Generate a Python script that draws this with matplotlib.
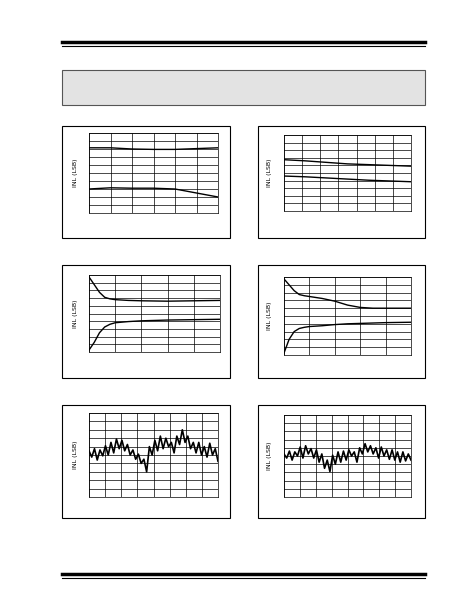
import matplotlib
matplotlib.use("Agg")
import matplotlib.pyplot as plt
from matplotlib.patches import Rectangle
import numpy as np

W, H = 474, 613
fig = plt.figure(figsize=(W/100, H/100), dpi=100)

def fx(x): return x / W
def fy(y): return 1 - y / H

# header/footer
fig.add_artist(plt.Line2D([fx(62), fx(425)], [fy(42), fy(42)], color="black", lw=2.5))
fig.add_artist(plt.Line2D([fx(62), fx(425)], [fy(46), fy(46)], color="black", lw=0.8))
fig.add_artist(plt.Line2D([fx(62), fx(425)], [fy(574), fy(574)], color="black", lw=2.5))
fig.add_artist(plt.Line2D([fx(62), fx(425)], [fy(578), fy(578)], color="black", lw=0.8))
fig.add_artist(Rectangle((fx(62), fy(105)), fx(363), 35/H, facecolor="#e3e3e3", edgecolor="#555555", lw=0.8))

# data
x1 = [0, 1, 2, 3, 4, 5, 6]
p1_hi = [0.63, 0.63, 0.60, 0.59, 0.59, 0.61, 0.63]
p1_lo = [-0.40, -0.37, -0.38, -0.38, -0.40, -0.50, -0.60]
x2 = [0, 1, 2, 3, 4, 5, 6]
p2_hi = [0.35, 0.32, 0.28, 0.24, 0.22, 0.20, 0.18]
p2_lo = [-0.08, -0.10, -0.13, -0.16, -0.19, -0.21, -0.23]
x3 = [0, 0.2, 0.4, 0.6, 0.8, 1.0, 1.5, 2, 3, 4, 5]
p3_hi = [0.95, 0.75, 0.55, 0.42, 0.38, 0.36, 0.34, 0.33, 0.32, 0.33, 0.34]
p3_lo = [-0.95, -0.75, -0.50, -0.35, -0.28, -0.24, -0.21, -0.19, -0.17, -0.16, -0.15]
x4 = [0, 0.2, 0.4, 0.6, 0.8, 1.0, 1.5, 2, 2.5, 3, 3.5, 4, 5]
p4_hi = [0.95, 0.80, 0.65, 0.55, 0.52, 0.50, 0.45, 0.38, 0.28, 0.22, 0.20, 0.20, 0.20]
p4_lo = [-0.95, -0.60, -0.40, -0.32, -0.29, -0.27, -0.25, -0.22, -0.20, -0.19, -0.18, -0.17, -0.16]
saw5 = [0.10, -0.05, 0.15, -0.12, 0.12, -0.02, 0.22, 0.00, 0.30, 0.05, 0.38, 0.15, 0.35,
        0.10, 0.25, 0.00, 0.12, -0.10, 0.02, -0.20, -0.10, -0.40, 0.20, 0.00, 0.35, 0.10,
        0.45, 0.15, 0.40, 0.20, 0.30, 0.05, 0.45, 0.25, 0.60, 0.30, 0.45, 0.15, 0.30,
        0.05, 0.30, 0.00, 0.20, -0.05, 0.28, 0.00, 0.15, -0.15]
saw6 = [0.05, -0.05, 0.12, -0.10, 0.10, 0.00, 0.22, -0.05, 0.25, 0.05, 0.18, -0.05, 0.15,
        -0.15, 0.05, -0.30, -0.10, -0.38, 0.02, -0.20, 0.10, -0.15, 0.12, -0.10, 0.15, 0.00,
        0.10, -0.15, 0.20, 0.05, 0.30, 0.10, 0.25, 0.05, 0.20, -0.05, 0.22, 0.00, 0.15,
        -0.08, 0.15, -0.10, 0.10, -0.15, 0.10, -0.12, 0.05, -0.10]

panels = [
    (62, 126, 230, 238, (89, 133, 218, 213), 6),
    (258, 126, 425, 238, (284, 135, 411, 211), 7),
    (62, 265, 230, 378, (89, 275, 220, 352), 5),
    (258, 265, 425, 378, (284, 277, 411, 355), 5),
    (62, 405, 230, 518, (89, 413, 218, 497), 8),
    (258, 405, 425, 518, (284, 415, 411, 497), 8),
]
series = [
    (x1, [p1_hi, p1_lo]), (x2, [p2_hi, p2_lo]), (x3, [p3_hi, p3_lo]),
    (x4, [p4_hi, p4_lo]), (None, [saw5]), (None, [saw6]),
]

for (l, t, r, b, ax_box, ncol), (xs, ys) in zip(panels, series):
    fig.add_artist(Rectangle((fx(l), fy(b)), (r-l)/W, (b-t)/H, facecolor="none", edgecolor="black", lw=0.8))
    al, at, ar, ab = ax_box
    ax = fig.add_axes([fx(al), fy(ab), (ar-al)/W, (ab-at)/H])
    if xs is None:
        xmax = ncol
        for y in ys:
            xx = np.linspace(0, xmax, len(y))
            ax.plot(xx, y, color="black", lw=1.2)
    else:
        xmax = max(xs) if ncol == 5 else ncol
        if ncol != 5:
            xmax = ncol
        for y in ys:
            xx = np.array(xs) * (xmax / max(xs))
            ax.plot(xx, y, color="black", lw=1.0)
    ax.set_xlim(0, xmax)
    ax.set_ylim(-1, 1)
    ax.set_xticks(np.linspace(0, xmax, ncol + 1))
    ax.set_yticks(np.linspace(-1, 1, 11))
    ax.grid(True, color="black", lw=0.5)
    ax.tick_params(length=0, labelleft=False, labelbottom=False)
    for s in ax.spines.values():
        s.set_linewidth(0.5)
    fig.text(fx(al - 14), fy((at + ab) / 2), "INL (LSB)", rotation=90, fontsize=4.5,
             ha="center", va="center")

fig.savefig("out.png", dpi=100)
